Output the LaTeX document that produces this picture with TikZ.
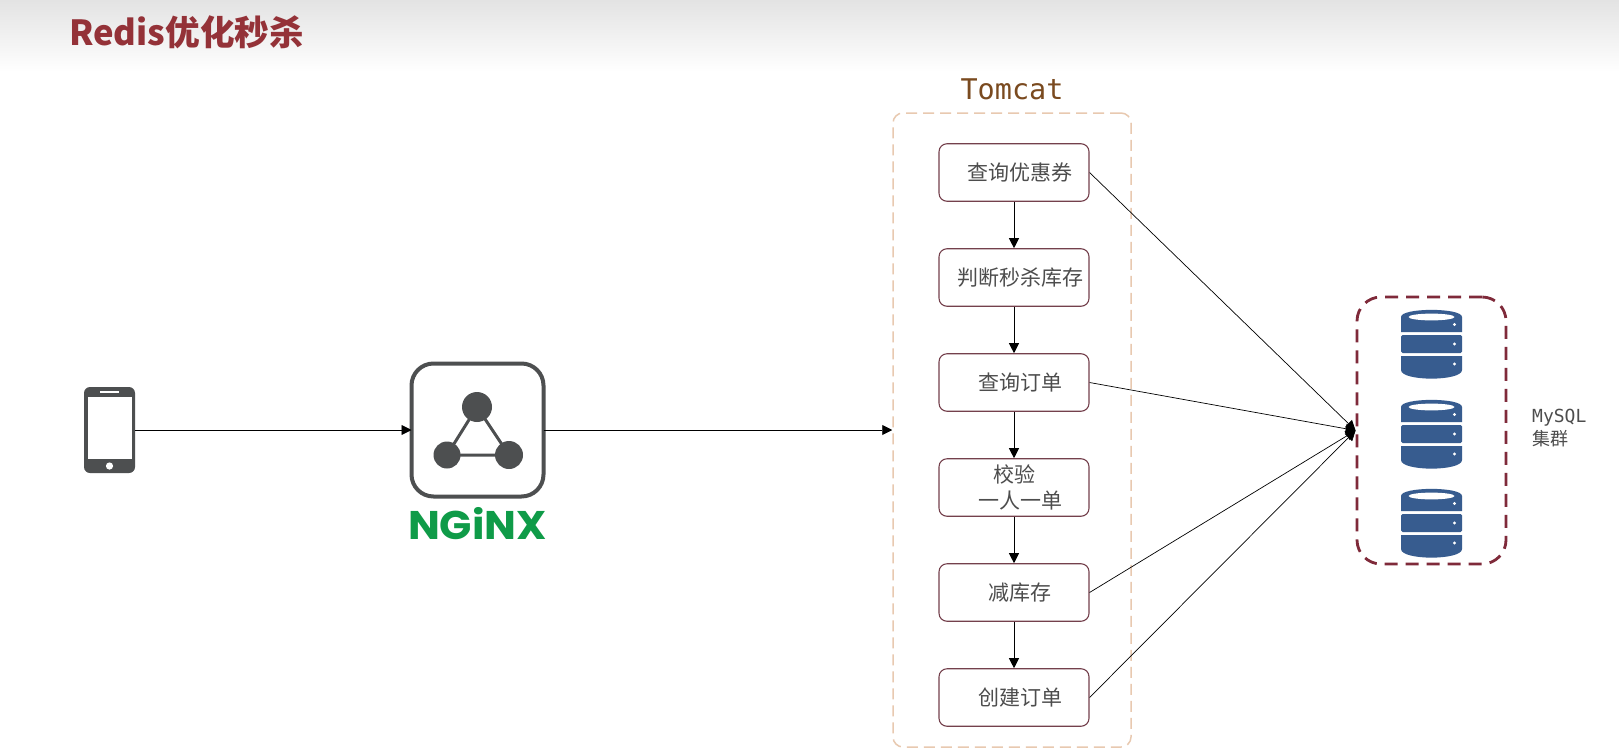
\documentclass[tikz,border=0pt]{standalone}
\usepackage{fontspec}
\setmainfont{Noto Sans CJK SC}
\newfontfamily\monof{DejaVu Sans Mono}
\newfontfamily\cjkf{Noto Sans CJK SC}
\newfontfamily\logof{Poppins}
\usetikzlibrary{arrows.meta,shadings}
\definecolor{iconc}{HTML}{4D4F50}
\definecolor{txtc}{HTML}{4D4D4D}
\definecolor{stepc}{HTML}{74404C}
\definecolor{tomc}{HTML}{E8C9B0}
\definecolor{tomt}{HTML}{7A4A1F}
\definecolor{groupc}{HTML}{7F2A3A}
\definecolor{titlec}{HTML}{943238}
\definecolor{dbc}{HTML}{375C8F}
\definecolor{nginxc}{HTML}{0F9B48}
\tikzset{
  x=1pt,y=-1pt,
  stepbox/.style={draw=stepc,line width=1.1pt,rounded corners=8pt,fill=white,minimum width=150pt,minimum height=57.5pt,inner sep=0pt,text=txtc,font=\fontsize{21}{26}\selectfont,align=center},
  arrow/.style={line width=0.9pt,-{Triangle[length=10pt,width=10pt]}},
  arrowthin/.style={line width=0.7pt,-{Triangle[length=10pt,width=10pt]}},
  dbpic/.pic={
    \fill[dbc] (-30.5,-5) .. controls (-30.5,-14.5) and (30.5,-14.5) .. (30.5,-5) -- (30.5,10) -- (-30.5,10) -- cycle;
    \fill[white] (0,-5) ellipse [x radius=23pt,y radius=3.4pt];
    \fill[dbc,rounded corners=1.5pt] (-30.5,13) rectangle (30.5,31);
    \fill[dbc] (-30.5,34) -- (30.5,34) -- (30.5,48) .. controls (30.5,59.5) and (-30.5,59.5) .. (-30.5,48) -- cycle;
    \fill[white] (23,2.5) circle [radius=1.7pt] (23,22) circle [radius=1.7pt] (23,42) circle [radius=1.7pt];
  },
}
\begin{document}
\begin{tikzpicture}
\useasboundingbox (0,0) rectangle (1619,750);
\fill[white] (0,0) rectangle (1619,750);
\shade[top color=black!11,bottom color=white] (0,0) rectangle (1619,72);
\node[anchor=base west,inner sep=0pt,text=titlec,font=\bfseries\fontsize{34.6}{40}\selectfont] (title) at (69,45) {Redis优化秒杀};

% phone
\node[fill=iconc,rounded corners=6pt,minimum width=51pt,minimum height=86pt,inner sep=0pt] (phone) at (109.5,430) {};
\fill[white] (88,397) rectangle (131.5,459);
\draw[white,line width=1.3pt] (100,392) -- (119,392);
\fill[white] (109.5,466) circle [radius=3.6pt];

% nginx
\node[draw=iconc,line width=4pt,outer sep=0pt,rounded corners=22pt,fill=white,minimum width=132pt,minimum height=133pt,inner sep=0pt] (nginx) at (477.5,430) {};
\draw[iconc,line width=3pt] (477,407) -- (447,455) -- (509,455) -- cycle;
\fill[iconc] (477,407) circle [radius=15pt] (447,455) circle [radius=13.5pt] (509,455) circle [radius=14pt];
\node[inner sep=0pt,text=nginxc,xscale=1.06,font=\logof\bfseries\fontsize{40}{40}\selectfont] (nginxlogo) at (477.5,524) {NGiNX};

% tomcat
\node[draw=tomc,dashed,dash pattern=on 11pt off 6pt,line width=1.5pt,rounded corners=10pt,minimum width=238pt,minimum height=634pt,inner sep=0pt] (tomcat) at (1012,430) {};
\node[inner sep=0pt,text=tomt,font=\monof\fontsize{28.5}{30}\selectfont] (tomlabel) at (1012,89) {Tomcat};

\node[stepbox] (s1) at (1014,172.5) {\hspace*{12pt}查询优惠券};
\node[stepbox] (s2) at (1014,277.5) {\hspace*{12pt}判断秒杀库存};
\node[stepbox] (s3) at (1014,382.5) {\hspace*{12pt}查询订单};
\node[stepbox] (s4) at (1014,487.5) {校验\\\hspace*{12pt}一人一单};
\node[stepbox] (s5) at (1014,592.5) {\hspace*{12pt}减库存};
\node[stepbox] (s6) at (1014,697.5) {\hspace*{12pt}创建订单};

% db group
\node[draw=groupc,dashed,dash pattern=on 13pt off 8pt,line width=2.8pt,rounded corners=24pt,minimum width=149pt,minimum height=267pt,inner sep=0pt] (db) at (1431.5,430.5) {};
\pic at (1431.5,322) {dbpic};
\pic at (1431.5,412) {dbpic};
\pic at (1431.5,501) {dbpic};
\node[anchor=west,inner sep=0pt,align=left,text=txtc,font=\monof\fontsize{18}{22.5}\selectfont] (dblabel) at (1532,428) {MySQL\\{\cjkf 集群}};

% connectors
\draw[arrow] (phone.east) -- (nginx.west);
\draw[arrow] (nginx.east) -- (tomcat.west);
\foreach \a/\b in {s1/s2,s2/s3,s3/s4,s4/s5,s5/s6}
  \draw[arrow] (\a) -- (\b.north);
\foreach \a in {s1,s3,s5,s6}
  \draw[arrowthin] (\a.east) -- (db.west);
\end{tikzpicture}
\end{document}
